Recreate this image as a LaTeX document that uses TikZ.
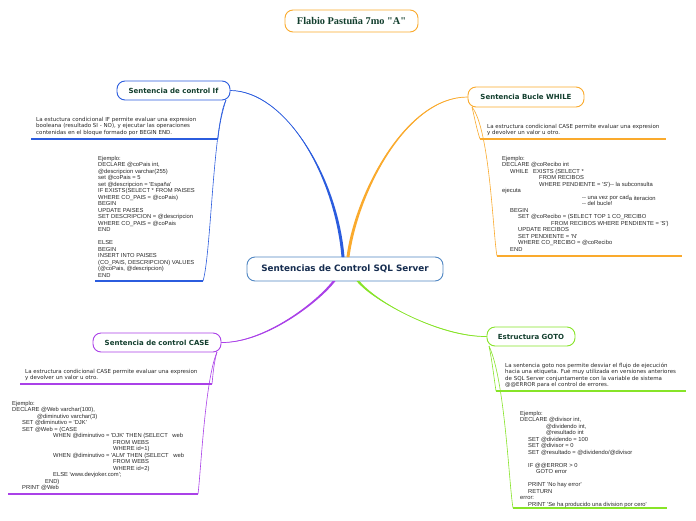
\documentclass[tikz,border=0pt]{standalone}
\usepackage{fontspec}
\newfontfamily\descfont{DejaVu Sans}
\newfontfamily\codefont[Ligatures=NoCommon]{Liberation Sans}
\newfontfamily\titlefont{Liberation Serif}
\newfontfamily\labelfont{DejaVu Sans}
\definecolor{cblue}{RGB}{43,92,222}
\definecolor{corange}{RGB}{250,170,45}
\definecolor{cpurple}{RGB}{170,65,232}
\definecolor{cgreen}{RGB}{135,228,40}
\definecolor{ccenter}{RGB}{80,135,195}
\definecolor{labeltext}{RGB}{18,62,45}
\definecolor{centertext}{RGB}{22,45,80}
\definecolor{bodytext}{RGB}{40,40,40}
\tikzset{
  topic/.style={draw, line width=0.9pt, rounded corners=8pt, fill=white, inner sep=0pt, text=labeltext,
    font=\labelfont\bfseries\fontsize{7}{8}\selectfont},
  desctext/.style={anchor=north west, inner sep=0pt, align=left, text=bodytext,
    font=\descfont\fontsize{5.5}{6.6}\selectfont},
  codetext/.style={anchor=north west, inner sep=0pt, align=left, text=bodytext,
    font=\codefont\fontsize{5.8}{6.5}\selectfont},
  mainlink/.style={line width=0.7pt, line cap=round},
  sublink/.style={line width=0.6pt},
  uline/.style={line width=1.2pt}
}
\begin{document}
\begin{tikzpicture}[x=1pt,y=-1pt]
\useasboundingbox (0,0) rectangle (696,520);
\fill[white] (0,0) rectangle (696,520);

\coordinate (cT1) at (343,257);
\coordinate (cT2) at (348,257);
\coordinate (cB1) at (334,281);
\coordinate (cB2) at (358,281);

% topic nodes
\node[topic, draw=corange, minimum width=133pt, minimum height=22pt,
  font=\titlefont\bfseries\fontsize{10.3}{12}\selectfont] (title) at (351.5,21) {Flabio Pastuña 7mo "A"};
\node[topic, draw=ccenter, minimum width=196pt, minimum height=24pt, text=centertext,
  font=\labelfont\bfseries\fontsize{8.8}{10}\selectfont] (center) at (345,269) {Sentencias de Control SQL Server};
\node[topic, draw=cblue, minimum width=113pt, minimum height=19pt] (ifnode) at (173.5,90.5) {Sentencia de control If};
\node[topic, draw=corange, minimum width=116pt, minimum height=20pt] (whilenode) at (526,97) {Sentencia Bucle WHILE};
\node[topic, draw=cpurple, minimum width=128pt, minimum height=19pt] (casenode) at (157,342.5) {Sentencia de control CASE};
\node[topic, draw=cgreen, minimum width=88pt, minimum height=19pt] (gotonode) at (531,336.5) {Estructura GOTO};

% main connectors, tapered towards the topics
\fill[cblue] (ifnode.east) .. controls (285,90) and (334.5,175) .. ([xshift=-1.5pt]cT1)
  -- ([xshift=1.5pt]cT1) .. controls (337.5,175) and (285,92) .. (ifnode.east) -- cycle;
\draw[mainlink, cblue] (ifnode.east) .. controls (285,91) and (336,175) .. (cT1);
\fill[corange] ([xshift=-1.5pt]cT2) .. controls (354.5,195) and (405,96) .. (whilenode.west)
  .. controls (405,98) and (357.5,195) .. ([xshift=1.5pt]cT2) -- cycle;
\draw[mainlink, corange] (cT2) .. controls (356,195) and (405,97) .. (whilenode.west);
\fill[cpurple] ([xshift=-1.5pt]cB1) .. controls (316.5,302) and (265,342) .. (casenode.east)
  .. controls (265,344) and (319.5,302) .. ([xshift=1.5pt]cB1) -- cycle;
\draw[mainlink, cpurple] (cB1) .. controls (318,302) and (265,343) .. (casenode.east);
\fill[cgreen] ([xshift=-1.5pt]cB2) .. controls (373.5,302) and (440,336) .. (gotonode.west)
  .. controls (440,338) and (376.5,302) .. ([xshift=1.5pt]cB2) -- cycle;
\draw[mainlink, cgreen] (cB2) .. controls (375,302) and (440,337) .. (gotonode.west);

% If branch
\coordinate (ifs) at (226,100);
\coordinate (ifd) at (218,139);
\coordinate (ifc) at (203,281);
\draw[sublink, cblue] (ifs) .. controls (222,112) and (219,127) .. (ifd);
\draw[sublink, cblue] (ifs) .. controls (213,125) and (211,255) .. (ifc);
\draw[uline, cblue] (31,139) coordinate (ifdl) -- (ifd);
\draw[uline, cblue] (95,281) coordinate (ifcl) -- (ifc);
\node[desctext] (ifdesc) at (36,117) {La estuctura condicional IF permite evaluar una expresion\\booleana (resultado SI - NO), y ejecutar las operaciones\\contenidas en el bloque formado por BEGIN END.};
\node[codetext] (ifcode) at (98,156) {Ejemplo:\\
DECLARE @coPais int,\\
@descripcion varchar(255)\\
set @coPais = 5\\
set @descripcion = 'España'\\
IF EXISTS(SELECT * FROM PAISES\\
WHERE CO\_PAIS = @coPais)\\
BEGIN\\
UPDATE PAISES\\
SET DESCRIPCION = @descripcion\\
WHERE CO\_PAIS = @coPais\\
END\\
\mbox{}\\
ELSE\\
BEGIN\\
INSERT INTO PAISES\\
(CO\_PAIS, DESCRIPCION) VALUES\\
(@coPais, @descripcion)\\
END};

% WHILE branch
\coordinate (whs) at (472,107);
\coordinate (whd) at (480,139);
\coordinate (whc) at (497,256);
\draw[sublink, corange] (whs) .. controls (475,120) and (477,130) .. (whd);
\draw[sublink, corange] (whs) .. controls (490,130) and (493,235) .. (whc);
\draw[uline, corange] (whd) -- (666,139) coordinate (whdr);
\draw[uline, corange] (whc) -- (682,256) coordinate (whcr);
\node[desctext] (whdesc) at (487,124) {La estructura condicional CASE permite evaluar una expresion\\y devolver un valor u otro.};
\node[codetext] (whcode) at (502,156) {Ejemplo:\\
DECLARE @coRecibo int\\
\hspace*{8pt}WHILE\hspace{3pt} EXISTS (SELECT *\\
\hspace*{37pt}FROM RECIBOS\\
\hspace*{37pt}WHERE PENDIENTE = 'S')-{}- la subconsulta\\
ejecuta\\
\hspace*{80pt}-{}- una vez por cad\raisebox{-1pt}{a iteracion}\\
\hspace*{80pt}-{}- del bucle!\\
\hspace*{8pt}BEGIN\\
\hspace*{16pt}SET @coRecibo = (SELECT TOP 1 CO\_RECIBO\\
\hspace*{49pt}FROM RECIBOS WHERE PENDIENTE = 'S')\\
\hspace*{16pt}UPDATE RECIBOS\\
\hspace*{16pt}SET PENDIENTE = 'N'\\
\hspace*{16pt}WHERE CO\_RECIBO = @coRecibo\\
\hspace*{8pt}END};

% CASE branch
\coordinate (cas) at (217,352);
\coordinate (cad) at (212,384);
\coordinate (cac) at (198,494);
\draw[sublink, cpurple] (cas) .. controls (214,362) and (213,374) .. (cad);
\draw[sublink, cpurple] (cas) .. controls (205,380) and (201,470) .. (cac);
\draw[uline, cpurple] (20,384) coordinate (cadl) -- (cad);
\draw[uline, cpurple] (8,494) coordinate (cacl) -- (cac);
\node[desctext] (cadesc) at (25,369) {La estructura condicional CASE permite evaluar una expresion\\y devolver un valor u otro.};
\node[codetext] (cacode) at (12,401) {Ejemplo:\\
DECLARE @Web varchar(100),\\
\hspace*{25pt}@diminutivo varchar(3)\\
\hspace*{10pt}SET @diminutivo = 'DJK'\\
\hspace*{10pt}SET @Web = (CASE\\
\hspace*{41pt}WHEN @diminutivo = 'DJK' THEN (SELECT\hspace{3pt} web\\
\hspace*{101pt}FROM WEBS\\
\hspace*{101pt}WHERE id=1)\\
\hspace*{41pt}WHEN @diminutivo = 'ALM' THEN (SELECT\hspace{3pt} web\\
\hspace*{101pt}FROM WEBS\\
\hspace*{101pt}WHERE id=2)\\
\hspace*{41pt}ELSE 'www.devjoker.com';\\
\hspace*{33pt}END)\\
\hspace*{10pt}PRINT @Web};

% GOTO branch
\coordinate (gos) at (489,346);
\coordinate (god) at (496,391);
\coordinate (goc) at (513,508);
\draw[sublink, cgreen] (gos) .. controls (492,360) and (494,378) .. (god);
\draw[sublink, cgreen] (gos) .. controls (505,380) and (509,485) .. (goc);
\draw[uline, cgreen] (god) -- (686,391) coordinate (godr);
\draw[uline, cgreen] (goc) -- (667,508) coordinate (gocr);
\node[desctext] (godesc) at (505,362.5) {La sentencia goto nos permite desviar el flujo de ejecución\\hacia una etiqueta. Fué muy utilizada en versiones anteriores\\de SQL Server conjuntamente con la variable de sistema\\@@ERROR para el control de errores.};
\node[codetext] (gocode) at (520,411) {Ejemplo:\\
DECLARE @divisor int,\\
\hspace*{26pt}@dividendo int,\\
\hspace*{26pt}@resultado int\\
\hspace*{8pt}SET @dividendo = 100\\
\hspace*{8pt}SET @divisor = 0\\
\hspace*{8pt}SET @resultado = @dividendo/@divisor\\
\mbox{}\\
\hspace*{8pt}IF @@ERROR > 0\\
\hspace*{16pt}GOTO error\\
\mbox{}\\
\hspace*{8pt}PRINT 'No hay error'\\
\hspace*{8pt}RETURN\\
error:\\
\hspace*{8pt}PRINT 'Se ha producido una division por cero'};
\end{tikzpicture}
\end{document}
